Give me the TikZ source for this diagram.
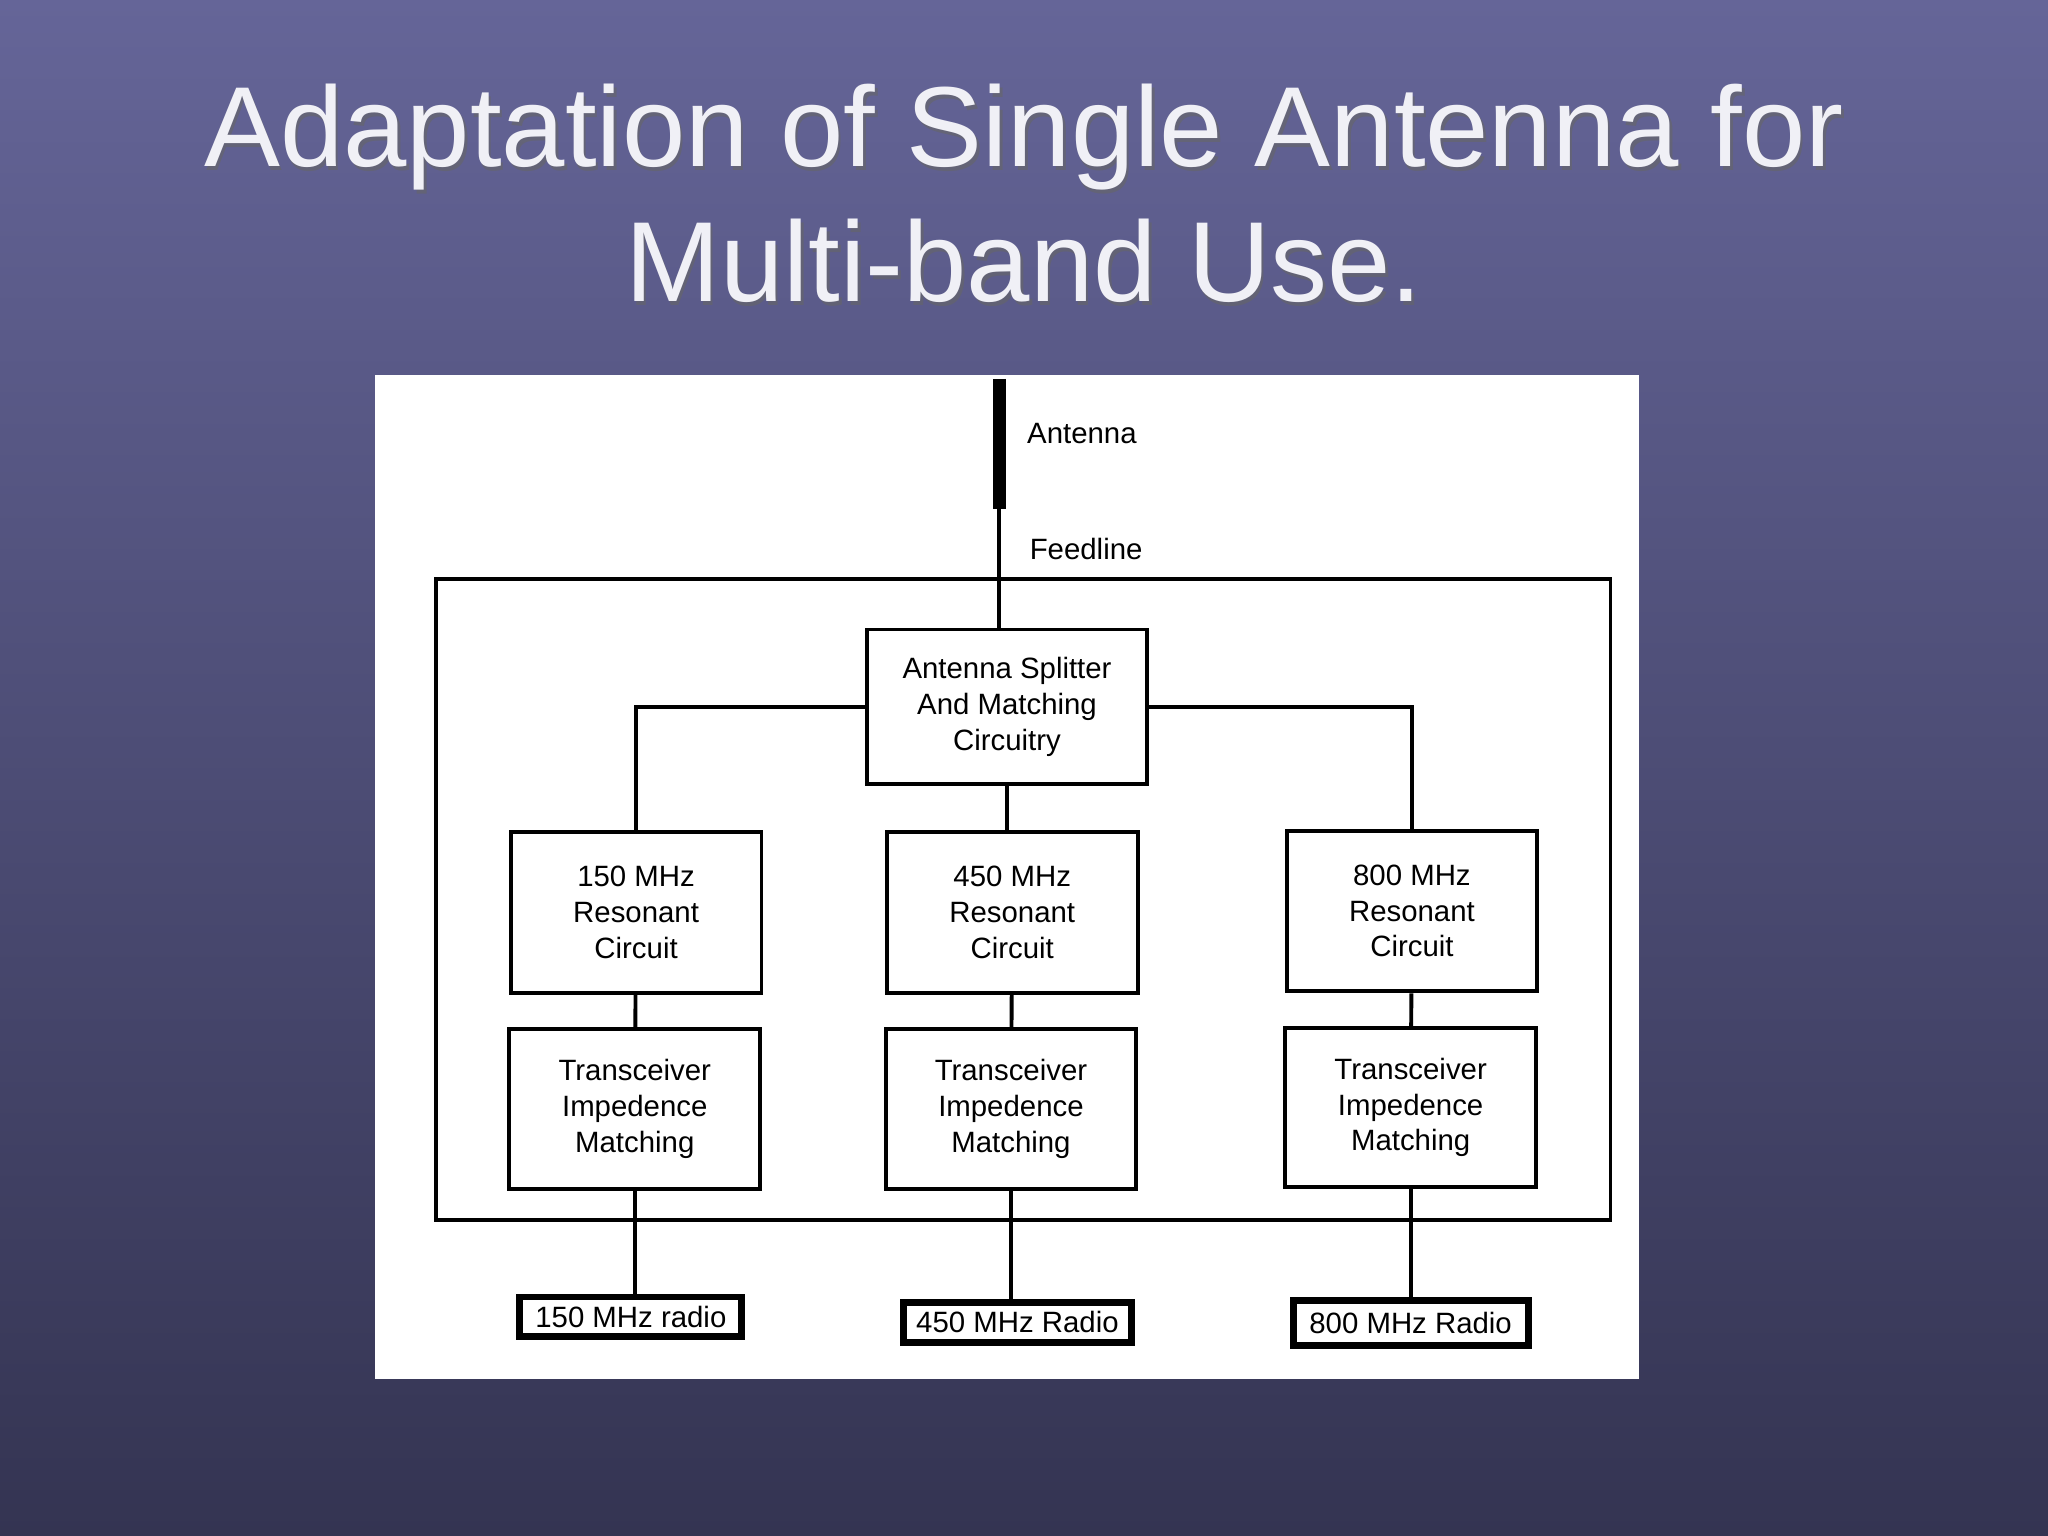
\documentclass[tikz,border=0pt]{standalone}
\usepackage{fontspec}
\setmainfont{Liberation Sans}
\usetikzlibrary{positioning}
\definecolor{slidetop}{RGB}{101,101,152}
\definecolor{slidebot}{RGB}{52,52,82}
\definecolor{titlecol}{RGB}{240,240,246}
\begin{document}
\begin{tikzpicture}
	[
	box/.style = {draw,line width=0.85pt,align=center,inner sep=0pt,font=\fontsize{6.4}{7.8}\selectfont},
	radio/.style = {draw,line width=1.5pt,inner sep=0pt,font=\fontsize{6.4}{7.8}\selectfont},
	wire/.style = {line width=0.85pt}
	]
	\useasboundingbox (0,0) rectangle (15.68,-11.76);
	\shade[top color=slidetop, bottom color=slidebot] (0,0) rectangle (15.68,-11.76);
	% title
	\node[text=black!60, opacity=0.6, align=center, font=\fontsize{24.8}{29.5}\selectfont] at (7.86,-1.51) {Adaptation of Single Antenna for\\Multi-band Use.};
	\node[text=titlecol, align=center, font=\fontsize{24.8}{29.5}\selectfont] (title) at (7.84,-1.48) {Adaptation of Single Antenna for\\Multi-band Use.};
	% panel
	\fill[white] (2.87,-2.87) rectangle (12.55,-10.56);
	\draw[wire] (3.34,-4.43) rectangle (12.33,-9.34);
	% antenna
	\coordinate (anttop) at (7.65,-2.90);
	\coordinate (antbot) at (7.65,-3.90);
	\draw[line width=2.8pt] (anttop) -- (antbot);
	\node[anchor=west, font=\fontsize{6.4}{7.8}\selectfont] (antlabel) at (7.74,-3.32) {Antenna};
	\node[anchor=west, font=\fontsize{6.4}{7.8}\selectfont] (feedlabel) at (7.76,-4.20) {Feedline};
	% blocks
	\node[box, minimum width=2.14cm, minimum height=1.18cm] (split) at (7.71,-5.41) {Antenna Splitter\\And Matching\\Circuitry};
	\node[box, minimum width=1.92cm, minimum height=1.23cm] (resL) at (4.87,-6.985) {150 MHz\\Resonant\\Circuit};
	\node[box, minimum width=1.92cm, minimum height=1.23cm] (resC) at (7.75,-6.985) {450 MHz\\Resonant\\Circuit};
	\node[box, minimum width=1.92cm, minimum height=1.23cm] (resR) at (10.81,-6.975) {800 MHz\\Resonant\\Circuit};
	\node[box, minimum width=1.92cm, minimum height=1.22cm] (trxL) at (4.86,-8.49) {Transceiver\\Impedence\\Matching};
	\node[box, minimum width=1.92cm, minimum height=1.22cm] (trxC) at (7.74,-8.49) {Transceiver\\Impedence\\Matching};
	\node[box, minimum width=1.92cm, minimum height=1.22cm] (trxR) at (10.80,-8.48) {Transceiver\\Impedence\\Matching};
	\node[radio, minimum width=1.70cm, minimum height=0.30cm] (radL) at (4.83,-10.08) {150 MHz radio};
	\node[radio, minimum width=1.74cm, minimum height=0.31cm] (radC) at (7.79,-10.125) {450 MHz Radio};
	\node[radio, minimum width=1.80cm, minimum height=0.34cm] (radR) at (10.80,-10.13) {800 MHz Radio};
	% connectors
	\draw[wire] (antbot) -- (antbot |- split.north);
	\draw[wire] (split.west) -| (resL.north);
	\draw[wire] (split.east) -| (resR.north);
	\draw[wire] (split.south) -- (split.south |- resC.north);
	\draw[wire] (resL) -- (trxL);
	\draw[wire] (resC) -- (trxC);
	\draw[wire] (resR) -- (trxR);
	\draw[wire] (trxL.south) -- (trxL.south |- radL.north);
	\draw[wire] (trxC.south) -- (trxC.south |- radC.north);
	\draw[wire] (trxR.south) -- (trxR.south |- radR.north);
\end{tikzpicture}
\end{document}
